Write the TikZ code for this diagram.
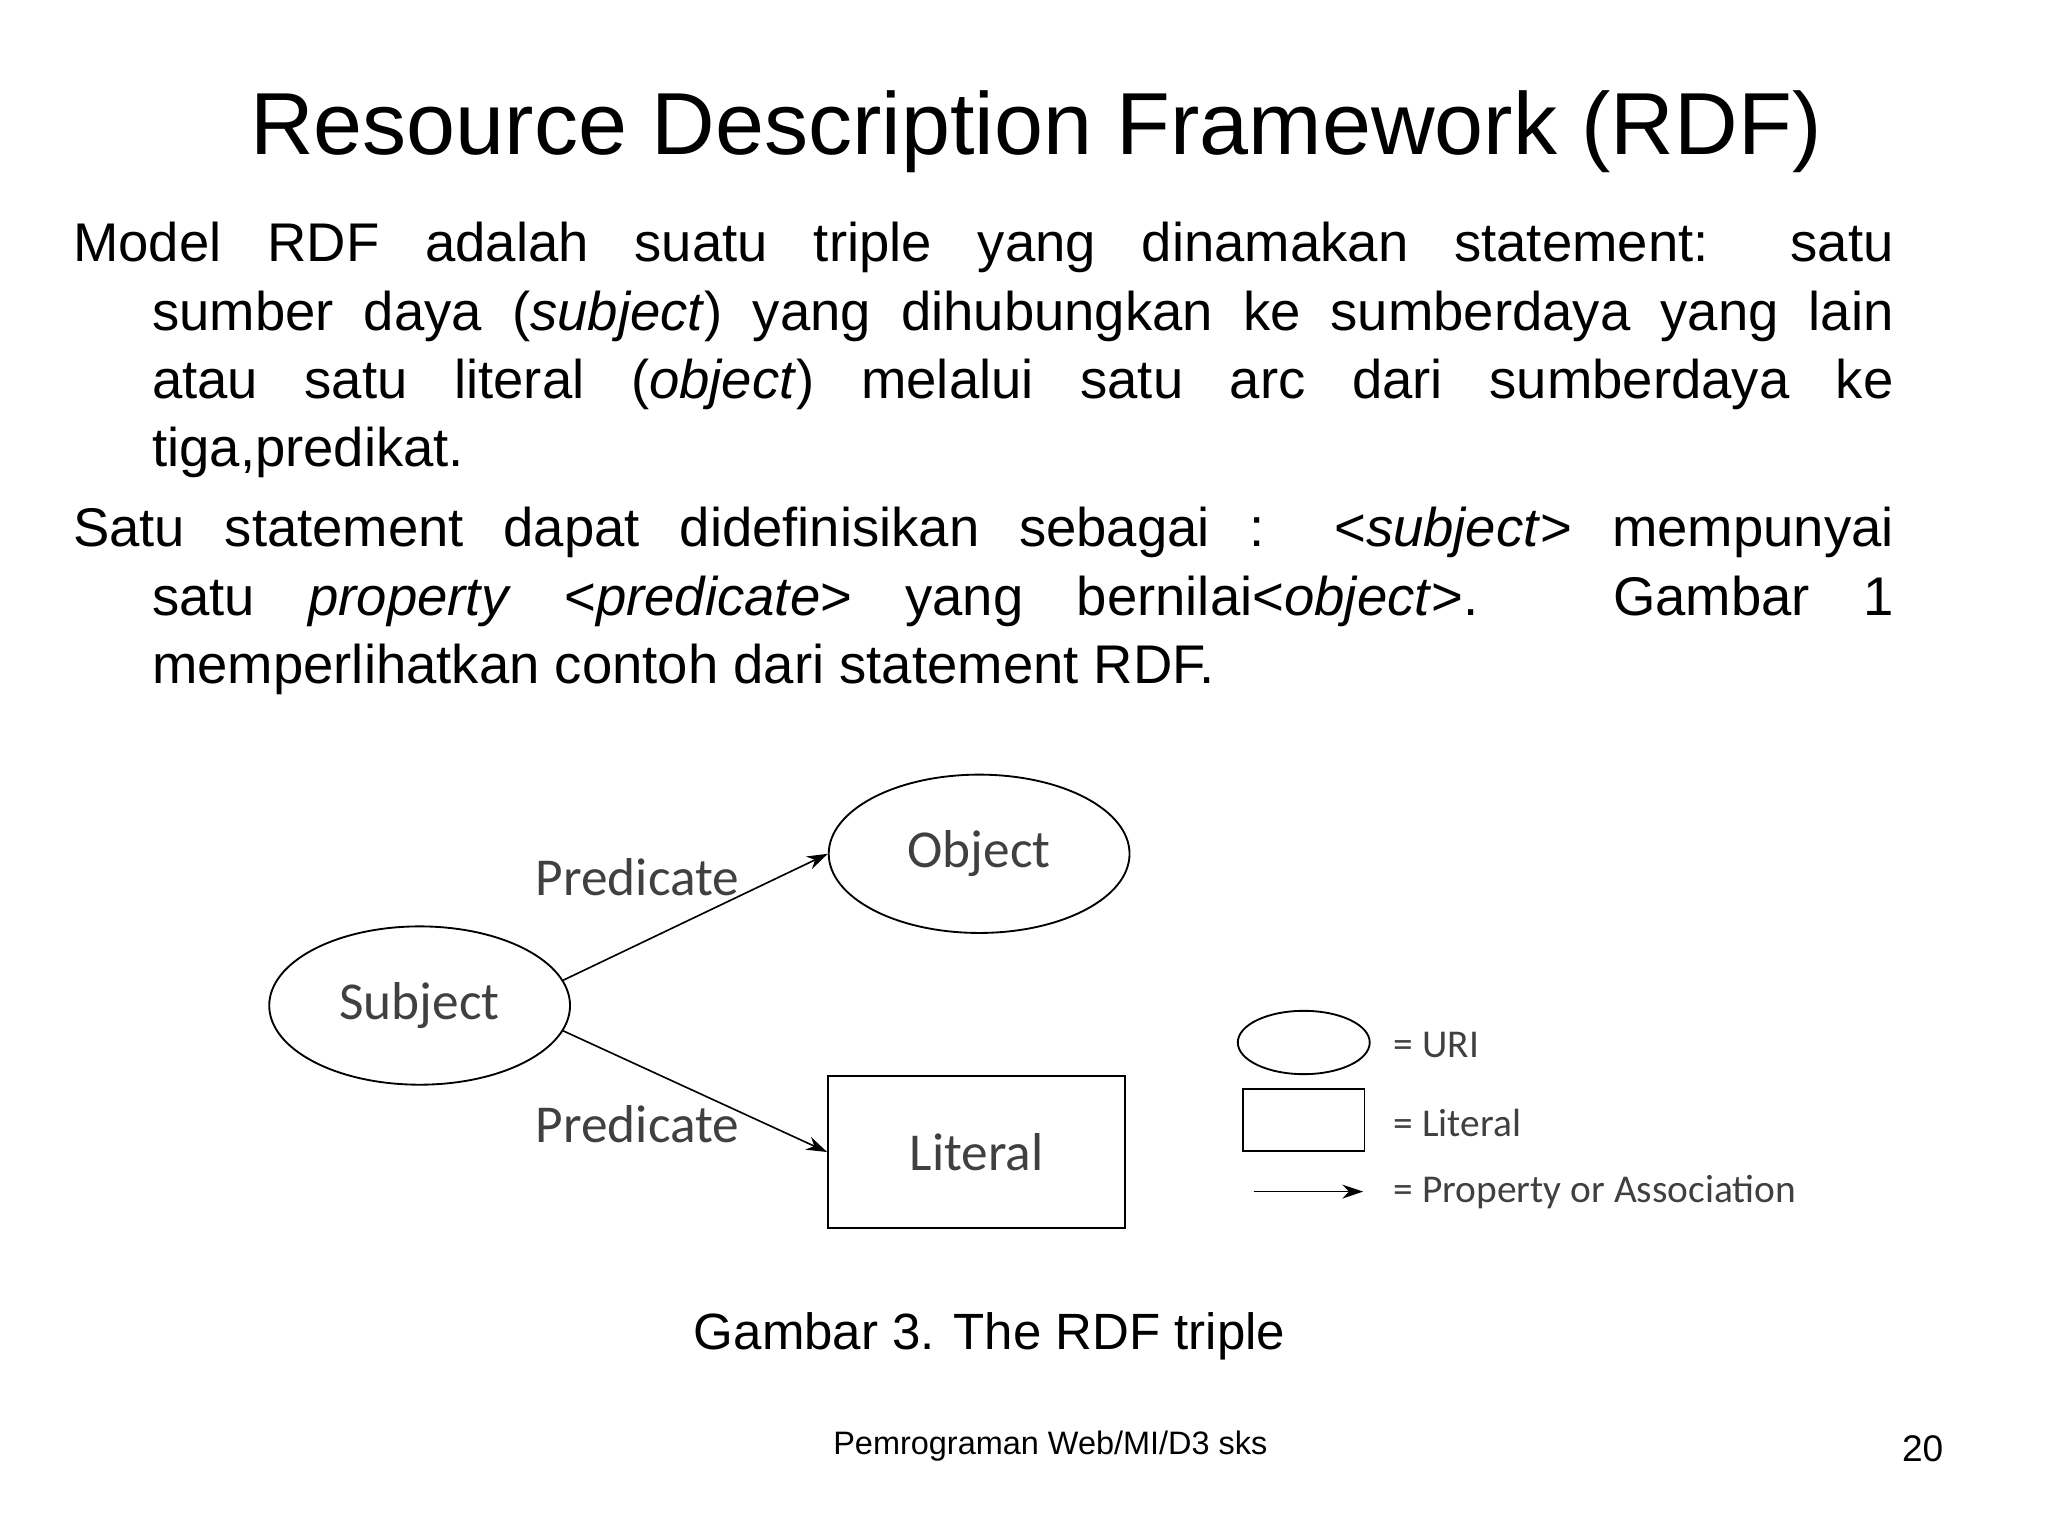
\documentclass[tikz,border=0pt]{standalone}
\usepackage{fontspec}
\setmainfont{Liberation Sans}
\newfontfamily\dfont{Carlito}
\usetikzlibrary{shapes.geometric,arrows.meta}
\begin{document}
\begin{tikzpicture}[x=0.02cm,y=-0.02cm,
  uri/.style={draw,ellipse,line width=0.8pt,inner sep=0pt},
  lit/.style={draw,rectangle,line width=0.8pt,inner sep=0pt},
  arr/.style={line width=0.7pt,-{Stealth[length=9pt,width=6pt]}},
  dlab/.style={font=\dfont\fontsize{23}{26}\selectfont,text=black!75},
  leg/.style={font=\dfont\fontsize{17}{20}\selectfont,text=black!75,anchor=west}]
\useasboundingbox (0,0) rectangle (1552,1164);
\node (title) at (785,100) {\fontsize{38}{44}\selectfont Resource Description Framework (RDF)};
\node[anchor=north west,inner sep=0pt] (body) at (55,168) {\begin{minipage}{27.6cm}\fontsize{23.5}{29.5}\selectfont
\hangindent=1.2cm\hangafter=1
Model RDF adalah suatu triple yang dinamakan statement: satu\linebreak
sumber daya (\textit{subject}) yang dihubungkan ke sumberdaya yang lain\linebreak
atau satu literal (\textit{object}) melalui satu arc dari sumberdaya ke\linebreak
tiga,predikat.\par
\vspace{5pt}
\hangindent=1.2cm\hangafter=1
Satu statement dapat didefinisikan sebagai : <\textit{subject}> mempunyai\linebreak
satu \textit{property} <\textit{predicate}> yang bernilai<\textit{object}>. Gambar 1\linebreak
memperlihatkan contoh dari statement RDF.\par
\end{minipage}};
\node[uri,minimum width=4.56cm,minimum height=2.4cm,dlab] (subj) at (318,762) {Subject};
\node[uri,minimum width=4.56cm,minimum height=2.4cm,dlab] (obj) at (742,647) {Object};
\node[lit,minimum width=4.5cm,minimum height=2.3cm,dlab] (lit) at (740,873) {Literal};
\draw[arr] (subj.10) -- (obj.west);
\draw[arr] (subj.-10) -- (lit.west);
\node[dlab] (p1) at (483,665) {Predicate};
\node[dlab] (p2) at (483,852) {Predicate};
\node[uri,minimum width=2cm,minimum height=0.96cm] (luri) at (988,790) {};
\node[lit,minimum width=1.84cm,minimum height=0.94cm] (llit) at (988,849) {};
\coordinate (la) at (950,903);
\coordinate (lb) at (1033,903);
\draw[arr] (la) -- (lb);
\node[leg] (t1) at (1050,792) {= URI};
\node[leg] (t2) at (1050,851) {= Literal};
\node[leg] (t3) at (1050,903) {= Property or Association};
\node (cap) at (750,1013) {\fontsize{22}{26}\selectfont Gambar 3. The RDF triple};
\node (foot) at (796,1096) {\fontsize{14}{17}\selectfont Pemrograman Web/MI/D3 sks};
\node (num) at (1457,1098) {\fontsize{16}{19}\selectfont 20};
\end{tikzpicture}
\end{document}
